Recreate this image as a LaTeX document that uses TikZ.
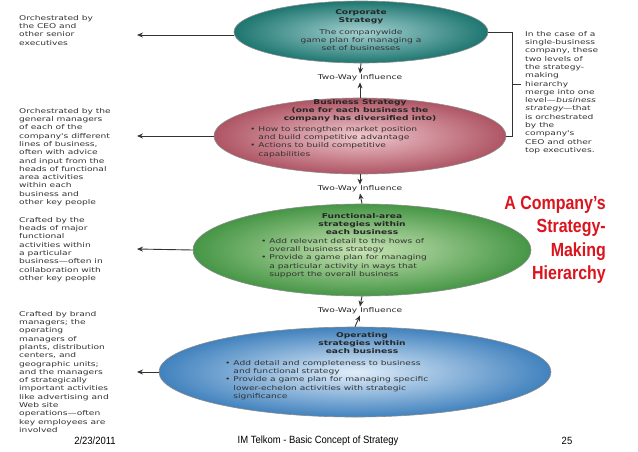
\documentclass[tikz,border=0pt]{standalone}
\usepackage{fontspec}
\setmainfont{Liberation Sans}
\newfontfamily\wide[FakeStretch=1.38]{DejaVu Sans}
\newfontfamily\narrow[FakeStretch=0.9]{Liberation Sans}
\newfontfamily\rednarrow[FakeStretch=0.84]{Liberation Sans}
\usetikzlibrary{shapes.geometric,arrows.meta}
\begin{document}
\begin{tikzpicture}[x=1pt,y=-1pt,
  lbl/.style={font=\wide\fontsize{6.6}{8.3}\selectfont,align=left,anchor=north west,inner sep=0pt,text=black!80},
  ttl/.style={font=\wide\fontsize{6.6}{8}\selectfont\bfseries,align=center,inner sep=0pt,text=black!85},
  ell/.style={ellipse,draw=black!45,line width=0.6pt,inner sep=0pt},
  arr/.style={draw=black!80,line width=0.9pt,-{Stealth[length=6pt,width=5pt]}},
  conn/.style={draw=black!80,line width=0.9pt},
  tw/.style={font=\wide\fontsize{6.6}{8}\selectfont,inner sep=1pt,text=black!85}]
\useasboundingbox (0,0) rectangle (638,451);
\fill[white] (0,0) rectangle (638,451);
% ellipses
\node[ell,minimum width=254,minimum height=62,inner color=teal!35!white,outer color={rgb,255:red,30;green,118;blue,112}] (corp) at (361,32) {};
\node[ell,minimum width=292,minimum height=76,inner color={rgb,255:red,240;green,200;blue,206},outer color={rgb,255:red,175;green,85;blue,100}] (bus) at (360,136) {};
\node[ell,minimum width=338,minimum height=92,inner color={rgb,255:red,200;green,228;blue,180},outer color={rgb,255:red,70;green,150;blue,70}] (fun) at (362,250) {};
\node[ell,minimum width=392,minimum height=90,inner color={rgb,255:red,225;green,238;blue,250},outer color={rgb,255:red,65;green,130;blue,190}] (op) at (355,372) {};
% ellipse texts
\node[ttl] (ct) at (361,17) {Corporate\\Strategy};
\node[font=\wide\fontsize{6.6}{8}\selectfont,align=center,inner sep=0pt,text=black!80] (cb) at (361,40) {The companywide\\game plan for managing a\\set of businesses};
\node[ttl] (bt) at (360,111) {Business Strategy\\(one for each business the\\company has diversified into)};
\node[lbl] (bb) at (250,126) {\textbullet\ How to strengthen market position\\\phantom{\textbullet\ }and build competitive advantage\\\textbullet\ Actions to build competitive\\\phantom{\textbullet\ }capabilities};
\node[ttl] (ft) at (362,224) {Functional-area\\strategies within\\each business};
\node[lbl] (fb) at (261,238) {\textbullet\ Add relevant detail to the hows of\\\phantom{\textbullet\ }overall business strategy\\\textbullet\ Provide a game plan for managing\\\phantom{\textbullet\ }a particular activity in ways that\\\phantom{\textbullet\ }support the overall business};
\node[ttl] (ot) at (362,343) {Operating\\strategies within\\each business};
\node[lbl] (ob) at (225,360) {\textbullet\ Add detail and completeness to business\\\phantom{\textbullet\ }and functional strategy\\\textbullet\ Provide a game plan for managing specific\\\phantom{\textbullet\ }lower-echelon activities with strategic\\\phantom{\textbullet\ }significance};
% two-way
\node[tw] (tw1) at (360,78) {Two-Way Influence};
\node[tw] (tw2) at (360,189) {Two-Way Influence};
\node[tw] (tw3) at (360,311) {Two-Way Influence};
\draw[arr] (corp.south) -- (tw1.north);
\draw[arr] (bus.north) -- (tw1.south);
\draw[arr] (bus.south) -- (tw2.north);
\draw[arr] (fun.north) -- (tw2.south);
\draw[arr] (fun.south) -- (tw3.north);
\draw[arr] (op.north) -- (tw3.south);
% left texts
\node[lbl] (l1) at (19,15) {Orchestrated by\\the CEO and\\other senior\\executives};
\node[lbl] (l2) at (19,108) {Orchestrated by the\\general managers\\of each of the\\company's different\\lines of business,\\often with advice\\and input from the\\heads of functional\\area activities\\within each\\business and\\other key people};
\node[lbl] (l3) at (19,217) {Crafted by the\\heads of major\\functional\\activities within\\a particular\\business—often in\\collaboration with\\other key people};
\node[lbl] (l4) at (19,311) {Crafted by brand\\managers; the\\operating\\managers of\\plants, distribution\\centers, and\\geographic units;\\and the managers\\of strategically\\important activities\\like advertising and\\Web site\\operations—often\\key employees are\\involved};
\coordinate (a1) at (137,35);
\coordinate (a2) at (137,136);
\coordinate (a3) at (137,249);
\coordinate (a4) at (137,372);
\draw[arr] (corp.west |- a1) -- (a1);
\draw[arr] (bus.west) -- (a2);
\draw[arr] (fun.west) -- (a3);
\draw[arr] (op.west) -- (a4);
% right bracket
\coordinate (b1) at (512,32);
\coordinate (b2) at (512,136);
\coordinate (b3) at (512,84);
\coordinate (b4) at (521,84);
\draw[conn] (corp.east) -- (b1) -- (b2) -- (bus.east);
\draw[conn] (b3) -- (b4);
\node[lbl] (r1) at (525,31) {In the case of a\\single-business\\company, these\\two levels of\\the strategy-\\making\\hierarchy\\merge into one\\level—{\addfontfeature{FakeSlant=0.2}business}\\{\addfontfeature{FakeSlant=0.2}strategy}—that\\is orchestrated\\by the\\company's\\CEO and other\\top executives.};
% title
\node[font=\rednarrow\fontsize{19}{23.5}\selectfont\bfseries,text={rgb,255:red,220;green,20;blue,30},align=right,anchor=north east,inner sep=0pt] (title) at (606,196) {A Company’s\\Strategy-\\Making\\Hierarchy};
% footer
\node[font=\narrow\fontsize{10.5}{12}\selectfont,inner sep=0pt] (f1) at (95,441) {2/23/2011};
\node[font=\narrow\fontsize{10.5}{12}\selectfont,inner sep=0pt] (f2) at (318,441) {IM Telkom - Basic Concept of Strategy};
\node[font=\narrow\fontsize{10.5}{12}\selectfont,inner sep=0pt] (f3) at (567,441) {25};
\end{tikzpicture}
\end{document}
